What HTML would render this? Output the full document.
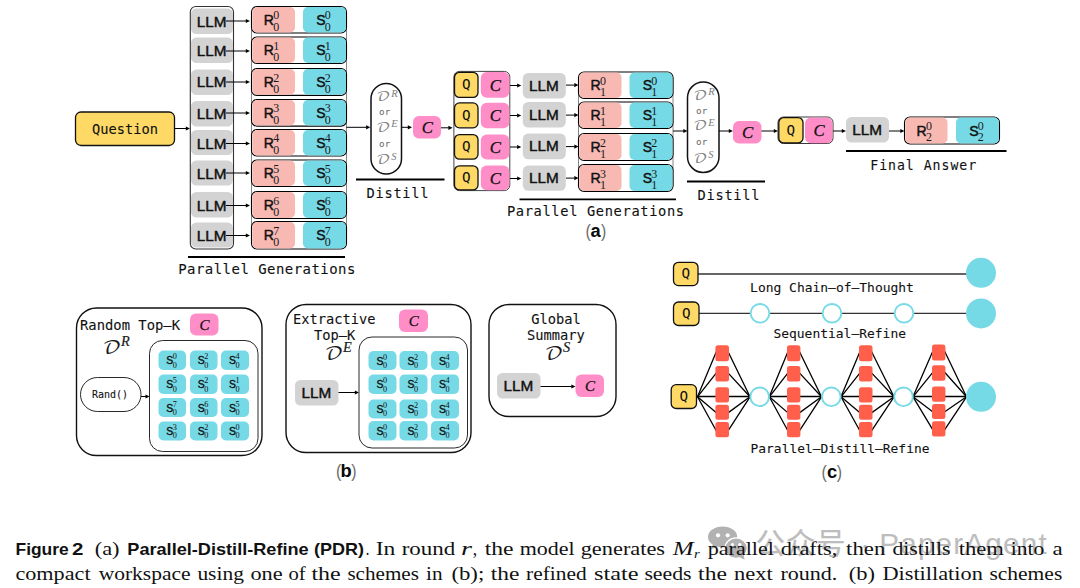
<!DOCTYPE html>
<html lang="en">
<head>
<meta charset="utf-8">
<title>Figure 2 - Parallel-Distill-Refine (PDR)</title>
<style>
html,body{margin:0;padding:0;background:#fff;}
body{width:1080px;height:588px;overflow:hidden;font-family:"Liberation Sans","Noto Sans CJK SC",sans-serif;}
svg{display:block;}
text{white-space:pre;}
</style>
</head>
<body>
<svg width="1080" height="588" viewBox="0 0 1080 588">
<rect width="1080" height="588" fill="#fff"/>
<rect x="75.5" y="112" width="99" height="33.5" rx="5.5" fill="#FFD966" stroke="#111" stroke-width="1.3"/>
<text x="92" y="133.7" font-family="'DejaVu Sans Mono','Liberation Mono',monospace" font-size="13.7" textLength="66" lengthAdjust="spacing" fill="#111" stroke="#111" stroke-width="0.1">Question</text>
<line x1="174.5" y1="128.5" x2="186.3" y2="128.5" stroke="#000" stroke-width="1"/>
<path d="M190 128.5L185.8 126.4L185.8 130.6Z" fill="#000"/>
<rect x="190.3" y="6.5" width="43.2" height="242.5" rx="5.5" fill="#fff" stroke="#333" stroke-width="1.1"/>
<rect x="191" y="8.5" width="42" height="25.5" rx="5.5" fill="#D3D3D3" stroke="none" stroke-width="1"/>
<text x="211.6" y="27.03" font-family="'Liberation Sans','DejaVu Sans',sans-serif" font-size="15.3" text-anchor="middle" fill="#111" stroke="#111" stroke-width="0.45" stroke-linejoin="round">LLM</text>
<rect x="191" y="37.5" width="42" height="25.5" rx="5.5" fill="#D3D3D3" stroke="none" stroke-width="1"/>
<text x="211.6" y="56.03" font-family="'Liberation Sans','DejaVu Sans',sans-serif" font-size="15.3" text-anchor="middle" fill="#111" stroke="#111" stroke-width="0.45" stroke-linejoin="round">LLM</text>
<rect x="191" y="69.5" width="42" height="25.5" rx="5.5" fill="#D3D3D3" stroke="none" stroke-width="1"/>
<text x="211.6" y="86.73" font-family="'Liberation Sans','DejaVu Sans',sans-serif" font-size="15.3" text-anchor="middle" fill="#111" stroke="#111" stroke-width="0.45" stroke-linejoin="round">LLM</text>
<rect x="191" y="101" width="42" height="25.5" rx="5.5" fill="#D3D3D3" stroke="none" stroke-width="1"/>
<text x="211.6" y="118.83" font-family="'Liberation Sans','DejaVu Sans',sans-serif" font-size="15.3" text-anchor="middle" fill="#111" stroke="#111" stroke-width="0.45" stroke-linejoin="round">LLM</text>
<rect x="191" y="130" width="42" height="25" rx="5.5" fill="#D3D3D3" stroke="none" stroke-width="1"/>
<text x="211.6" y="148.58" font-family="'Liberation Sans','DejaVu Sans',sans-serif" font-size="15.3" text-anchor="middle" fill="#111" stroke="#111" stroke-width="0.45" stroke-linejoin="round">LLM</text>
<rect x="191" y="160.5" width="42" height="25" rx="5.5" fill="#D3D3D3" stroke="none" stroke-width="1"/>
<text x="211.6" y="178.78" font-family="'Liberation Sans','DejaVu Sans',sans-serif" font-size="15.3" text-anchor="middle" fill="#111" stroke="#111" stroke-width="0.45" stroke-linejoin="round">LLM</text>
<rect x="191" y="192" width="42" height="25.5" rx="5.5" fill="#D3D3D3" stroke="none" stroke-width="1"/>
<text x="211.6" y="210.53" font-family="'Liberation Sans','DejaVu Sans',sans-serif" font-size="15.3" text-anchor="middle" fill="#111" stroke="#111" stroke-width="0.45" stroke-linejoin="round">LLM</text>
<rect x="191" y="222.5" width="42" height="25" rx="5.5" fill="#D3D3D3" stroke="none" stroke-width="1"/>
<text x="211.6" y="241.38" font-family="'Liberation Sans','DejaVu Sans',sans-serif" font-size="15.3" text-anchor="middle" fill="#111" stroke="#111" stroke-width="0.45" stroke-linejoin="round">LLM</text>
<line x1="251.5" y1="12" x2="251.5" y2="244" stroke="#666" stroke-width="0.8"/>
<line x1="346.5" y1="12" x2="346.5" y2="244" stroke="#666" stroke-width="0.8"/>
<rect x="251.5" y="6.5" width="95" height="26.5" rx="5.5" fill="#fff" stroke="#000" stroke-width="1.1"/>
<rect x="252.3" y="7.1" width="42.7" height="25.3" rx="5" fill="#F9B9B3" stroke="none" stroke-width="1"/>
<rect x="303" y="7.1" width="43" height="25.3" rx="5" fill="#76DAE6" stroke="none" stroke-width="1"/>
<text x="263.65" y="24.9" font-family="'Liberation Sans','DejaVu Sans',sans-serif" font-size="14" fill="#111" stroke="#111" stroke-width="0.45" stroke-linejoin="round">R</text>
<text x="273.2" y="19.3" font-family="'Liberation Serif','DejaVu Serif',serif" font-size="12" fill="#1a1a1a">0</text>
<text x="273.2" y="30.7" font-family="'Liberation Serif','DejaVu Serif',serif" font-size="12" fill="#1a1a1a">0</text>
<text x="316.2" y="24.9" font-family="'Liberation Sans','DejaVu Sans',sans-serif" font-size="14" fill="#111" stroke="#111" stroke-width="0.45" stroke-linejoin="round">S</text>
<text x="324.7" y="19.3" font-family="'Liberation Serif','DejaVu Serif',serif" font-size="12" fill="#1a1a1a">0</text>
<text x="324.7" y="30.7" font-family="'Liberation Serif','DejaVu Serif',serif" font-size="12" fill="#1a1a1a">0</text>
<line x1="226" y1="21" x2="246.3" y2="21" stroke="#000" stroke-width="1"/>
<path d="M250 21L245.8 18.9L245.8 23.1Z" fill="#000"/>
<rect x="251.5" y="37" width="95" height="26.5" rx="5.5" fill="#fff" stroke="#000" stroke-width="1.1"/>
<rect x="252.3" y="37.6" width="42.7" height="25.3" rx="5" fill="#F9B9B3" stroke="none" stroke-width="1"/>
<rect x="303" y="37.6" width="43" height="25.3" rx="5" fill="#76DAE6" stroke="none" stroke-width="1"/>
<text x="263.65" y="55.4" font-family="'Liberation Sans','DejaVu Sans',sans-serif" font-size="14" fill="#111" stroke="#111" stroke-width="0.45" stroke-linejoin="round">R</text>
<text x="273.2" y="49.8" font-family="'Liberation Serif','DejaVu Serif',serif" font-size="12" fill="#1a1a1a">1</text>
<text x="273.2" y="61.2" font-family="'Liberation Serif','DejaVu Serif',serif" font-size="12" fill="#1a1a1a">0</text>
<text x="316.2" y="55.4" font-family="'Liberation Sans','DejaVu Sans',sans-serif" font-size="14" fill="#111" stroke="#111" stroke-width="0.45" stroke-linejoin="round">S</text>
<text x="324.7" y="49.8" font-family="'Liberation Serif','DejaVu Serif',serif" font-size="12" fill="#1a1a1a">1</text>
<text x="324.7" y="61.2" font-family="'Liberation Serif','DejaVu Serif',serif" font-size="12" fill="#1a1a1a">0</text>
<line x1="226" y1="51" x2="246.3" y2="51" stroke="#000" stroke-width="1"/>
<path d="M250 51L245.8 48.9L245.8 53.1Z" fill="#000"/>
<rect x="251.5" y="68.5" width="95" height="26.9" rx="5.5" fill="#fff" stroke="#000" stroke-width="1.1"/>
<rect x="252.3" y="69.1" width="42.7" height="25.7" rx="5" fill="#F9B9B3" stroke="none" stroke-width="1"/>
<rect x="303" y="69.1" width="43" height="25.7" rx="5" fill="#76DAE6" stroke="none" stroke-width="1"/>
<text x="263.65" y="87.1" font-family="'Liberation Sans','DejaVu Sans',sans-serif" font-size="14" fill="#111" stroke="#111" stroke-width="0.45" stroke-linejoin="round">R</text>
<text x="273.2" y="81.5" font-family="'Liberation Serif','DejaVu Serif',serif" font-size="12" fill="#1a1a1a">2</text>
<text x="273.2" y="92.9" font-family="'Liberation Serif','DejaVu Serif',serif" font-size="12" fill="#1a1a1a">0</text>
<text x="316.2" y="87.1" font-family="'Liberation Sans','DejaVu Sans',sans-serif" font-size="14" fill="#111" stroke="#111" stroke-width="0.45" stroke-linejoin="round">S</text>
<text x="324.7" y="81.5" font-family="'Liberation Serif','DejaVu Serif',serif" font-size="12" fill="#1a1a1a">2</text>
<text x="324.7" y="92.9" font-family="'Liberation Serif','DejaVu Serif',serif" font-size="12" fill="#1a1a1a">0</text>
<line x1="226" y1="82" x2="246.3" y2="82" stroke="#000" stroke-width="1"/>
<path d="M250 82L245.8 79.9L245.8 84.1Z" fill="#000"/>
<rect x="251.5" y="99.5" width="95" height="26.6" rx="5.5" fill="#fff" stroke="#000" stroke-width="1.1"/>
<rect x="252.3" y="100.1" width="42.7" height="25.4" rx="5" fill="#F9B9B3" stroke="none" stroke-width="1"/>
<rect x="303" y="100.1" width="43" height="25.4" rx="5" fill="#76DAE6" stroke="none" stroke-width="1"/>
<text x="263.65" y="117.95" font-family="'Liberation Sans','DejaVu Sans',sans-serif" font-size="14" fill="#111" stroke="#111" stroke-width="0.45" stroke-linejoin="round">R</text>
<text x="273.2" y="112.35" font-family="'Liberation Serif','DejaVu Serif',serif" font-size="12" fill="#1a1a1a">3</text>
<text x="273.2" y="123.75" font-family="'Liberation Serif','DejaVu Serif',serif" font-size="12" fill="#1a1a1a">0</text>
<text x="316.2" y="117.95" font-family="'Liberation Sans','DejaVu Sans',sans-serif" font-size="14" fill="#111" stroke="#111" stroke-width="0.45" stroke-linejoin="round">S</text>
<text x="324.7" y="112.35" font-family="'Liberation Serif','DejaVu Serif',serif" font-size="12" fill="#1a1a1a">3</text>
<text x="324.7" y="123.75" font-family="'Liberation Serif','DejaVu Serif',serif" font-size="12" fill="#1a1a1a">0</text>
<line x1="226" y1="113" x2="246.3" y2="113" stroke="#000" stroke-width="1"/>
<path d="M250 113L245.8 110.9L245.8 115.1Z" fill="#000"/>
<rect x="251.5" y="129.5" width="95" height="26.5" rx="5.5" fill="#fff" stroke="#000" stroke-width="1.1"/>
<rect x="252.3" y="130.1" width="42.7" height="25.3" rx="5" fill="#F9B9B3" stroke="none" stroke-width="1"/>
<rect x="303" y="130.1" width="43" height="25.3" rx="5" fill="#76DAE6" stroke="none" stroke-width="1"/>
<text x="263.65" y="147.9" font-family="'Liberation Sans','DejaVu Sans',sans-serif" font-size="14" fill="#111" stroke="#111" stroke-width="0.45" stroke-linejoin="round">R</text>
<text x="273.2" y="142.3" font-family="'Liberation Serif','DejaVu Serif',serif" font-size="12" fill="#1a1a1a">4</text>
<text x="273.2" y="153.7" font-family="'Liberation Serif','DejaVu Serif',serif" font-size="12" fill="#1a1a1a">0</text>
<text x="316.2" y="147.9" font-family="'Liberation Sans','DejaVu Sans',sans-serif" font-size="14" fill="#111" stroke="#111" stroke-width="0.45" stroke-linejoin="round">S</text>
<text x="324.7" y="142.3" font-family="'Liberation Serif','DejaVu Serif',serif" font-size="12" fill="#1a1a1a">4</text>
<text x="324.7" y="153.7" font-family="'Liberation Serif','DejaVu Serif',serif" font-size="12" fill="#1a1a1a">0</text>
<line x1="226" y1="143.5" x2="246.3" y2="143.5" stroke="#000" stroke-width="1"/>
<path d="M250 143.5L245.8 141.4L245.8 145.6Z" fill="#000"/>
<rect x="251.5" y="160" width="95" height="26.5" rx="5.5" fill="#fff" stroke="#000" stroke-width="1.1"/>
<rect x="252.3" y="160.6" width="42.7" height="25.3" rx="5" fill="#F9B9B3" stroke="none" stroke-width="1"/>
<rect x="303" y="160.6" width="43" height="25.3" rx="5" fill="#76DAE6" stroke="none" stroke-width="1"/>
<text x="263.65" y="178.4" font-family="'Liberation Sans','DejaVu Sans',sans-serif" font-size="14" fill="#111" stroke="#111" stroke-width="0.45" stroke-linejoin="round">R</text>
<text x="273.2" y="172.8" font-family="'Liberation Serif','DejaVu Serif',serif" font-size="12" fill="#1a1a1a">5</text>
<text x="273.2" y="184.2" font-family="'Liberation Serif','DejaVu Serif',serif" font-size="12" fill="#1a1a1a">0</text>
<text x="316.2" y="178.4" font-family="'Liberation Sans','DejaVu Sans',sans-serif" font-size="14" fill="#111" stroke="#111" stroke-width="0.45" stroke-linejoin="round">S</text>
<text x="324.7" y="172.8" font-family="'Liberation Serif','DejaVu Serif',serif" font-size="12" fill="#1a1a1a">5</text>
<text x="324.7" y="184.2" font-family="'Liberation Serif','DejaVu Serif',serif" font-size="12" fill="#1a1a1a">0</text>
<line x1="226" y1="173" x2="246.3" y2="173" stroke="#000" stroke-width="1"/>
<path d="M250 173L245.8 170.9L245.8 175.1Z" fill="#000"/>
<rect x="251.5" y="191.5" width="95" height="27" rx="5.5" fill="#fff" stroke="#000" stroke-width="1.1"/>
<rect x="252.3" y="192.1" width="42.7" height="25.8" rx="5" fill="#F9B9B3" stroke="none" stroke-width="1"/>
<rect x="303" y="192.1" width="43" height="25.8" rx="5" fill="#76DAE6" stroke="none" stroke-width="1"/>
<text x="263.65" y="210.15" font-family="'Liberation Sans','DejaVu Sans',sans-serif" font-size="14" fill="#111" stroke="#111" stroke-width="0.45" stroke-linejoin="round">R</text>
<text x="273.2" y="204.55" font-family="'Liberation Serif','DejaVu Serif',serif" font-size="12" fill="#1a1a1a">6</text>
<text x="273.2" y="215.95" font-family="'Liberation Serif','DejaVu Serif',serif" font-size="12" fill="#1a1a1a">0</text>
<text x="316.2" y="210.15" font-family="'Liberation Sans','DejaVu Sans',sans-serif" font-size="14" fill="#111" stroke="#111" stroke-width="0.45" stroke-linejoin="round">S</text>
<text x="324.7" y="204.55" font-family="'Liberation Serif','DejaVu Serif',serif" font-size="12" fill="#1a1a1a">6</text>
<text x="324.7" y="215.95" font-family="'Liberation Serif','DejaVu Serif',serif" font-size="12" fill="#1a1a1a">0</text>
<line x1="226" y1="205.5" x2="246.3" y2="205.5" stroke="#000" stroke-width="1"/>
<path d="M250 205.5L245.8 203.4L245.8 207.6Z" fill="#000"/>
<rect x="251.5" y="221.5" width="95" height="27.5" rx="5.5" fill="#fff" stroke="#000" stroke-width="1.1"/>
<rect x="252.3" y="222.1" width="42.7" height="26.3" rx="5" fill="#F9B9B3" stroke="none" stroke-width="1"/>
<rect x="303" y="222.1" width="43" height="26.3" rx="5" fill="#76DAE6" stroke="none" stroke-width="1"/>
<text x="263.65" y="240.4" font-family="'Liberation Sans','DejaVu Sans',sans-serif" font-size="14" fill="#111" stroke="#111" stroke-width="0.45" stroke-linejoin="round">R</text>
<text x="273.2" y="234.8" font-family="'Liberation Serif','DejaVu Serif',serif" font-size="12" fill="#1a1a1a">7</text>
<text x="273.2" y="246.2" font-family="'Liberation Serif','DejaVu Serif',serif" font-size="12" fill="#1a1a1a">0</text>
<text x="316.2" y="240.4" font-family="'Liberation Sans','DejaVu Sans',sans-serif" font-size="14" fill="#111" stroke="#111" stroke-width="0.45" stroke-linejoin="round">S</text>
<text x="324.7" y="234.8" font-family="'Liberation Serif','DejaVu Serif',serif" font-size="12" fill="#1a1a1a">7</text>
<text x="324.7" y="246.2" font-family="'Liberation Serif','DejaVu Serif',serif" font-size="12" fill="#1a1a1a">0</text>
<line x1="226" y1="235.5" x2="246.3" y2="235.5" stroke="#000" stroke-width="1"/>
<path d="M250 235.5L245.8 233.4L245.8 237.6Z" fill="#000"/>
<line x1="188" y1="257" x2="345" y2="257" stroke="#000" stroke-width="1.8"/>
<text x="178.2" y="274.4" font-family="'DejaVu Sans Mono','Liberation Mono',monospace" font-size="13.98" textLength="177.2" lengthAdjust="spacing" fill="#111" stroke="#111" stroke-width="0.1">Parallel Generations</text>
<line x1="346.5" y1="127.3" x2="366.6" y2="127.3" stroke="#000" stroke-width="1"/>
<path d="M370.3 127.3L366.1 125.2L366.1 129.4Z" fill="#000"/>
<rect x="371" y="83.5" width="30.5" height="90.5" rx="15.25" fill="#fff" stroke="#111" stroke-width="1.5"/>
<text transform="translate(383.35 101.27) scale(1.16 1)" font-family="'DejaVu Math TeX Gyre','DejaVu Serif','Liberation Serif',serif" font-size="13.2" text-anchor="middle" fill="#7d7d7d">𝒟</text>
<text x="391.25" y="96.5" font-family="'Liberation Serif','DejaVu Serif',serif" font-size="10.6" font-style="italic" fill="#7d7d7d">R</text>
<text x="384.65" y="115.2" font-family="'DejaVu Sans Mono','Liberation Mono',monospace" font-size="9.3" text-anchor="middle" fill="#6a6a6a">or</text>
<text transform="translate(383.35 131.97) scale(1.16 1)" font-family="'DejaVu Math TeX Gyre','DejaVu Serif','Liberation Serif',serif" font-size="13.2" text-anchor="middle" fill="#7d7d7d">𝒟</text>
<text x="391.25" y="127.2" font-family="'Liberation Serif','DejaVu Serif',serif" font-size="10.6" font-style="italic" fill="#7d7d7d">E</text>
<text x="384.65" y="146.8" font-family="'DejaVu Sans Mono','Liberation Mono',monospace" font-size="9.3" text-anchor="middle" fill="#6a6a6a">or</text>
<text transform="translate(383.35 164.27) scale(1.16 1)" font-family="'DejaVu Math TeX Gyre','DejaVu Serif','Liberation Serif',serif" font-size="13.2" text-anchor="middle" fill="#7d7d7d">𝒟</text>
<text x="391.25" y="159.5" font-family="'Liberation Serif','DejaVu Serif',serif" font-size="10.6" font-style="italic" fill="#7d7d7d">S</text>
<line x1="401.5" y1="127.3" x2="408.3" y2="127.3" stroke="#000" stroke-width="1"/>
<path d="M412 127.3L407.8 125.2L407.8 129.4Z" fill="#000"/>
<rect x="413" y="116" width="28" height="22.5" rx="6" fill="#FF8DC7" stroke="none" stroke-width="1"/>
<text x="427.3" y="133.05" font-family="'Liberation Serif','DejaVu Serif',serif" font-size="16.8" font-style="italic" text-anchor="middle" fill="#111" stroke="#111" stroke-width="0.25">C</text>
<line x1="441" y1="127.8" x2="448.9" y2="127.8" stroke="#000" stroke-width="1"/>
<path d="M452.6 127.8L448.4 125.7L448.4 129.9Z" fill="#000"/>
<line x1="356" y1="179.5" x2="444.5" y2="179.5" stroke="#000" stroke-width="1.8"/>
<text x="366.49" y="198" font-family="'DejaVu Sans Mono','Liberation Mono',monospace" font-size="13.69" textLength="62.02" lengthAdjust="spacing" fill="#111" stroke="#111" stroke-width="0.1">Distill</text>
<rect x="453.9" y="71.4" width="55.9" height="119.2" rx="5.5" fill="#fff" stroke="#444" stroke-width="1"/>
<line x1="578.5" y1="77" x2="578.5" y2="186" stroke="#666" stroke-width="0.8"/>
<line x1="673" y1="77" x2="673" y2="186" stroke="#666" stroke-width="0.8"/>
<rect x="480.8" y="72.1" width="28.6" height="25.7" rx="6" fill="#FF8DC7" stroke="none" stroke-width="1"/>
<text x="495.4" y="90.65" font-family="'Liberation Serif','DejaVu Serif',serif" font-size="16.8" font-style="italic" text-anchor="middle" fill="#111" stroke="#111" stroke-width="0.25">C</text>
<rect x="454.5" y="72.3" width="23.5" height="25.1" rx="5" fill="#FFD966" stroke="#111" stroke-width="1.3"/>
<text x="466.25" y="89.2" font-family="'DejaVu Sans Mono','Liberation Mono',monospace" font-size="14.3" text-anchor="middle" fill="#111">Q</text>
<line x1="510" y1="85.5" x2="517.6" y2="85.5" stroke="#000" stroke-width="1"/>
<path d="M521.3 85.5L517.1 83.4L517.1 87.6Z" fill="#000"/>
<rect x="522.8" y="73" width="43" height="25.6" rx="5.5" fill="#D3D3D3" stroke="none" stroke-width="1"/>
<text x="543.9" y="90.78" font-family="'Liberation Sans','DejaVu Sans',sans-serif" font-size="15.3" text-anchor="middle" fill="#111" stroke="#111" stroke-width="0.45" stroke-linejoin="round">LLM</text>
<line x1="566" y1="85.1" x2="574.8" y2="85.1" stroke="#000" stroke-width="1"/>
<path d="M578.5 85.1L574.3 83L574.3 87.2Z" fill="#000"/>
<rect x="578.5" y="72" width="94.5" height="26.5" rx="5.5" fill="#fff" stroke="#000" stroke-width="1.1"/>
<rect x="579.3" y="72.6" width="42.2" height="25.3" rx="5" fill="#F9B9B3" stroke="none" stroke-width="1"/>
<rect x="629.5" y="72.6" width="43" height="25.3" rx="5" fill="#76DAE6" stroke="none" stroke-width="1"/>
<text x="590.4" y="90.4" font-family="'Liberation Sans','DejaVu Sans',sans-serif" font-size="14" fill="#111" stroke="#111" stroke-width="0.45" stroke-linejoin="round">R</text>
<text x="599.95" y="84.8" font-family="'Liberation Serif','DejaVu Serif',serif" font-size="12" fill="#1a1a1a">0</text>
<text x="599.95" y="96.2" font-family="'Liberation Serif','DejaVu Serif',serif" font-size="12" fill="#1a1a1a">1</text>
<text x="642.7" y="90.4" font-family="'Liberation Sans','DejaVu Sans',sans-serif" font-size="14" fill="#111" stroke="#111" stroke-width="0.45" stroke-linejoin="round">S</text>
<text x="651.2" y="84.8" font-family="'Liberation Serif','DejaVu Serif',serif" font-size="12" fill="#1a1a1a">0</text>
<text x="651.2" y="96.2" font-family="'Liberation Serif','DejaVu Serif',serif" font-size="12" fill="#1a1a1a">1</text>
<rect x="480.8" y="102.7" width="28.6" height="25.5" rx="6" fill="#FF8DC7" stroke="none" stroke-width="1"/>
<text x="495.4" y="121.15" font-family="'Liberation Serif','DejaVu Serif',serif" font-size="16.8" font-style="italic" text-anchor="middle" fill="#111" stroke="#111" stroke-width="0.25">C</text>
<rect x="454.5" y="102.9" width="23.5" height="24.9" rx="5" fill="#FFD966" stroke="#111" stroke-width="1.3"/>
<text x="466.25" y="119.7" font-family="'DejaVu Sans Mono','Liberation Mono',monospace" font-size="14.3" text-anchor="middle" fill="#111">Q</text>
<line x1="510" y1="115.5" x2="517.6" y2="115.5" stroke="#000" stroke-width="1"/>
<path d="M521.3 115.5L517.1 113.4L517.1 117.6Z" fill="#000"/>
<rect x="522.8" y="102" width="43" height="25.6" rx="5.5" fill="#D3D3D3" stroke="none" stroke-width="1"/>
<text x="543.9" y="119.78" font-family="'Liberation Sans','DejaVu Sans',sans-serif" font-size="15.3" text-anchor="middle" fill="#111" stroke="#111" stroke-width="0.45" stroke-linejoin="round">LLM</text>
<line x1="566" y1="115.1" x2="574.8" y2="115.1" stroke="#000" stroke-width="1"/>
<path d="M578.5 115.1L574.3 113L574.3 117.2Z" fill="#000"/>
<rect x="578.5" y="102" width="94.5" height="26.5" rx="5.5" fill="#fff" stroke="#000" stroke-width="1.1"/>
<rect x="579.3" y="102.6" width="42.2" height="25.3" rx="5" fill="#F9B9B3" stroke="none" stroke-width="1"/>
<rect x="629.5" y="102.6" width="43" height="25.3" rx="5" fill="#76DAE6" stroke="none" stroke-width="1"/>
<text x="590.4" y="120.4" font-family="'Liberation Sans','DejaVu Sans',sans-serif" font-size="14" fill="#111" stroke="#111" stroke-width="0.45" stroke-linejoin="round">R</text>
<text x="599.95" y="114.8" font-family="'Liberation Serif','DejaVu Serif',serif" font-size="12" fill="#1a1a1a">1</text>
<text x="599.95" y="126.2" font-family="'Liberation Serif','DejaVu Serif',serif" font-size="12" fill="#1a1a1a">1</text>
<text x="642.7" y="120.4" font-family="'Liberation Sans','DejaVu Sans',sans-serif" font-size="14" fill="#111" stroke="#111" stroke-width="0.45" stroke-linejoin="round">S</text>
<text x="651.2" y="114.8" font-family="'Liberation Serif','DejaVu Serif',serif" font-size="12" fill="#1a1a1a">1</text>
<text x="651.2" y="126.2" font-family="'Liberation Serif','DejaVu Serif',serif" font-size="12" fill="#1a1a1a">1</text>
<rect x="480.8" y="134.4" width="28.6" height="25.2" rx="6" fill="#FF8DC7" stroke="none" stroke-width="1"/>
<text x="495.4" y="152.7" font-family="'Liberation Serif','DejaVu Serif',serif" font-size="16.8" font-style="italic" text-anchor="middle" fill="#111" stroke="#111" stroke-width="0.25">C</text>
<rect x="454.5" y="134.6" width="23.5" height="24.6" rx="5" fill="#FFD966" stroke="#111" stroke-width="1.3"/>
<text x="466.25" y="151.25" font-family="'DejaVu Sans Mono','Liberation Mono',monospace" font-size="14.3" text-anchor="middle" fill="#111">Q</text>
<line x1="510" y1="147" x2="517.6" y2="147" stroke="#000" stroke-width="1"/>
<path d="M521.3 147L517.1 144.9L517.1 149.1Z" fill="#000"/>
<rect x="522.8" y="133.6" width="43" height="25.7" rx="5.5" fill="#D3D3D3" stroke="none" stroke-width="1"/>
<text x="543.9" y="151.43" font-family="'Liberation Sans','DejaVu Sans',sans-serif" font-size="15.3" text-anchor="middle" fill="#111" stroke="#111" stroke-width="0.45" stroke-linejoin="round">LLM</text>
<line x1="566" y1="146.6" x2="574.8" y2="146.6" stroke="#000" stroke-width="1"/>
<path d="M578.5 146.6L574.3 144.5L574.3 148.7Z" fill="#000"/>
<rect x="578.5" y="133.5" width="94.5" height="27" rx="5.5" fill="#fff" stroke="#000" stroke-width="1.1"/>
<rect x="579.3" y="134.1" width="42.2" height="25.8" rx="5" fill="#F9B9B3" stroke="none" stroke-width="1"/>
<rect x="629.5" y="134.1" width="43" height="25.8" rx="5" fill="#76DAE6" stroke="none" stroke-width="1"/>
<text x="590.4" y="152.15" font-family="'Liberation Sans','DejaVu Sans',sans-serif" font-size="14" fill="#111" stroke="#111" stroke-width="0.45" stroke-linejoin="round">R</text>
<text x="599.95" y="146.55" font-family="'Liberation Serif','DejaVu Serif',serif" font-size="12" fill="#1a1a1a">2</text>
<text x="599.95" y="157.95" font-family="'Liberation Serif','DejaVu Serif',serif" font-size="12" fill="#1a1a1a">1</text>
<text x="642.7" y="152.15" font-family="'Liberation Sans','DejaVu Sans',sans-serif" font-size="14" fill="#111" stroke="#111" stroke-width="0.45" stroke-linejoin="round">S</text>
<text x="651.2" y="146.55" font-family="'Liberation Serif','DejaVu Serif',serif" font-size="12" fill="#1a1a1a">2</text>
<text x="651.2" y="157.95" font-family="'Liberation Serif','DejaVu Serif',serif" font-size="12" fill="#1a1a1a">1</text>
<rect x="480.8" y="165.6" width="28.6" height="24.7" rx="6" fill="#FF8DC7" stroke="none" stroke-width="1"/>
<text x="495.4" y="183.65" font-family="'Liberation Serif','DejaVu Serif',serif" font-size="16.8" font-style="italic" text-anchor="middle" fill="#111" stroke="#111" stroke-width="0.25">C</text>
<rect x="454.5" y="165.8" width="23.5" height="24.1" rx="5" fill="#FFD966" stroke="#111" stroke-width="1.3"/>
<text x="466.25" y="182.2" font-family="'DejaVu Sans Mono','Liberation Mono',monospace" font-size="14.3" text-anchor="middle" fill="#111">Q</text>
<line x1="510" y1="178.5" x2="517.6" y2="178.5" stroke="#000" stroke-width="1"/>
<path d="M521.3 178.5L517.1 176.4L517.1 180.6Z" fill="#000"/>
<rect x="522.8" y="165.6" width="43" height="25.2" rx="5.5" fill="#D3D3D3" stroke="none" stroke-width="1"/>
<text x="543.9" y="183.18" font-family="'Liberation Sans','DejaVu Sans',sans-serif" font-size="15.3" text-anchor="middle" fill="#111" stroke="#111" stroke-width="0.45" stroke-linejoin="round">LLM</text>
<line x1="566" y1="178.1" x2="574.8" y2="178.1" stroke="#000" stroke-width="1"/>
<path d="M578.5 178.1L574.3 176L574.3 180.2Z" fill="#000"/>
<rect x="578.5" y="164.5" width="94.5" height="27" rx="5.5" fill="#fff" stroke="#000" stroke-width="1.1"/>
<rect x="579.3" y="165.1" width="42.2" height="25.8" rx="5" fill="#F9B9B3" stroke="none" stroke-width="1"/>
<rect x="629.5" y="165.1" width="43" height="25.8" rx="5" fill="#76DAE6" stroke="none" stroke-width="1"/>
<text x="590.4" y="183.15" font-family="'Liberation Sans','DejaVu Sans',sans-serif" font-size="14" fill="#111" stroke="#111" stroke-width="0.45" stroke-linejoin="round">R</text>
<text x="599.95" y="177.55" font-family="'Liberation Serif','DejaVu Serif',serif" font-size="12" fill="#1a1a1a">3</text>
<text x="599.95" y="188.95" font-family="'Liberation Serif','DejaVu Serif',serif" font-size="12" fill="#1a1a1a">1</text>
<text x="642.7" y="183.15" font-family="'Liberation Sans','DejaVu Sans',sans-serif" font-size="14" fill="#111" stroke="#111" stroke-width="0.45" stroke-linejoin="round">S</text>
<text x="651.2" y="177.55" font-family="'Liberation Serif','DejaVu Serif',serif" font-size="12" fill="#1a1a1a">3</text>
<text x="651.2" y="188.95" font-family="'Liberation Serif','DejaVu Serif',serif" font-size="12" fill="#1a1a1a">1</text>
<line x1="519.5" y1="199.3" x2="676" y2="199.3" stroke="#000" stroke-width="1.8"/>
<text x="506.9" y="216" font-family="'DejaVu Sans Mono','Liberation Mono',monospace" font-size="13.69" textLength="177.2" lengthAdjust="spacing" fill="#111" stroke="#111" stroke-width="0.1">Parallel Generations</text>
<text transform="translate(585.4 236.7) scale(0.84 1)" font-family="'Liberation Sans','DejaVu Sans',sans-serif" font-size="19" fill="#6e6e6e">(</text>
<text x="590.5" y="236.6" font-family="'Liberation Sans','DejaVu Sans',sans-serif" font-size="18.3" font-weight="bold" fill="#0a0a0a">a</text>
<text transform="translate(601.1 236.7) scale(0.84 1)" font-family="'Liberation Sans','DejaVu Sans',sans-serif" font-size="19" fill="#6e6e6e">)</text>
<line x1="673" y1="131" x2="683.8" y2="131" stroke="#000" stroke-width="1"/>
<path d="M687.5 131L683.3 128.9L683.3 133.1Z" fill="#000"/>
<rect x="687.5" y="82" width="31.5" height="90.5" rx="15.75" fill="#fff" stroke="#111" stroke-width="1.5"/>
<text transform="translate(700.35 99.77) scale(1.16 1)" font-family="'DejaVu Math TeX Gyre','DejaVu Serif','Liberation Serif',serif" font-size="13.2" text-anchor="middle" fill="#7d7d7d">𝒟</text>
<text x="708.25" y="95" font-family="'Liberation Serif','DejaVu Serif',serif" font-size="10.6" font-style="italic" fill="#7d7d7d">R</text>
<text x="701.65" y="113.7" font-family="'DejaVu Sans Mono','Liberation Mono',monospace" font-size="9.3" text-anchor="middle" fill="#6a6a6a">or</text>
<text transform="translate(700.35 130.47) scale(1.16 1)" font-family="'DejaVu Math TeX Gyre','DejaVu Serif','Liberation Serif',serif" font-size="13.2" text-anchor="middle" fill="#7d7d7d">𝒟</text>
<text x="708.25" y="125.7" font-family="'Liberation Serif','DejaVu Serif',serif" font-size="10.6" font-style="italic" fill="#7d7d7d">E</text>
<text x="701.65" y="145.3" font-family="'DejaVu Sans Mono','Liberation Mono',monospace" font-size="9.3" text-anchor="middle" fill="#6a6a6a">or</text>
<text transform="translate(700.35 162.77) scale(1.16 1)" font-family="'DejaVu Math TeX Gyre','DejaVu Serif','Liberation Serif',serif" font-size="13.2" text-anchor="middle" fill="#7d7d7d">𝒟</text>
<text x="708.25" y="158" font-family="'Liberation Serif','DejaVu Serif',serif" font-size="10.6" font-style="italic" fill="#7d7d7d">S</text>
<line x1="719" y1="131" x2="729.3" y2="131" stroke="#000" stroke-width="1"/>
<path d="M733 131L728.8 128.9L728.8 133.1Z" fill="#000"/>
<rect x="733" y="121" width="28.5" height="22.5" rx="6" fill="#FF8DC7" stroke="none" stroke-width="1"/>
<text x="747.55" y="138.05" font-family="'Liberation Serif','DejaVu Serif',serif" font-size="16.8" font-style="italic" text-anchor="middle" fill="#111" stroke="#111" stroke-width="0.25">C</text>
<line x1="761.5" y1="131" x2="774.3" y2="131" stroke="#000" stroke-width="1"/>
<path d="M778 131L773.8 128.9L773.8 133.1Z" fill="#000"/>
<line x1="687" y1="181.5" x2="765" y2="181.5" stroke="#000" stroke-width="1.8"/>
<text x="697.49" y="200.4" font-family="'DejaVu Sans Mono','Liberation Mono',monospace" font-size="13.69" textLength="62.02" lengthAdjust="spacing" fill="#111" stroke="#111" stroke-width="0.1">Distill</text>
<rect x="778" y="117" width="55" height="26.5" rx="5.5" fill="#fff" stroke="#222" stroke-width="0.9"/>
<rect x="805" y="117.4" width="27.5" height="25.9" rx="6" fill="#FF8DC7" stroke="none" stroke-width="1"/>
<text x="819.05" y="136.05" font-family="'Liberation Serif','DejaVu Serif',serif" font-size="16.8" font-style="italic" text-anchor="middle" fill="#111" stroke="#111" stroke-width="0.25">C</text>
<rect x="778.8" y="117.6" width="24.2" height="25.3" rx="5" fill="#FFD966" stroke="#111" stroke-width="1.3"/>
<text x="790.9" y="134.6" font-family="'DejaVu Sans Mono','Liberation Mono',monospace" font-size="14.3" text-anchor="middle" fill="#111">Q</text>
<line x1="833" y1="131" x2="842.3" y2="131" stroke="#000" stroke-width="1"/>
<path d="M846 131L841.8 128.9L841.8 133.1Z" fill="#000"/>
<rect x="846" y="117" width="43" height="25.5" rx="5.5" fill="#D3D3D3" stroke="none" stroke-width="1"/>
<text x="867.1" y="134.53" font-family="'Liberation Sans','DejaVu Sans',sans-serif" font-size="15.3" text-anchor="middle" fill="#111" stroke="#111" stroke-width="0.45" stroke-linejoin="round">LLM</text>
<line x1="889" y1="131" x2="900.8" y2="131" stroke="#000" stroke-width="1"/>
<path d="M904.5 131L900.3 128.9L900.3 133.1Z" fill="#000"/>
<rect x="904.5" y="117" width="95" height="27" rx="5.5" fill="#fff" stroke="#000" stroke-width="1.1"/>
<rect x="905.3" y="117.6" width="42.2" height="25.8" rx="5" fill="#F9B9B3" stroke="none" stroke-width="1"/>
<rect x="956" y="117.6" width="43" height="25.8" rx="5" fill="#76DAE6" stroke="none" stroke-width="1"/>
<text x="916.4" y="135.65" font-family="'Liberation Sans','DejaVu Sans',sans-serif" font-size="14" fill="#111" stroke="#111" stroke-width="0.45" stroke-linejoin="round">R</text>
<text x="925.95" y="130.05" font-family="'Liberation Serif','DejaVu Serif',serif" font-size="12" fill="#1a1a1a">0</text>
<text x="925.95" y="141.45" font-family="'Liberation Serif','DejaVu Serif',serif" font-size="12" fill="#1a1a1a">2</text>
<text x="969.2" y="135.65" font-family="'Liberation Sans','DejaVu Sans',sans-serif" font-size="14" fill="#111" stroke="#111" stroke-width="0.45" stroke-linejoin="round">S</text>
<text x="977.7" y="130.05" font-family="'Liberation Serif','DejaVu Serif',serif" font-size="12" fill="#1a1a1a">0</text>
<text x="977.7" y="141.45" font-family="'Liberation Serif','DejaVu Serif',serif" font-size="12" fill="#1a1a1a">2</text>
<line x1="846" y1="151" x2="1006.5" y2="151" stroke="#000" stroke-width="1.8"/>
<text x="870.22" y="169.72" font-family="'DejaVu Sans Mono','Liberation Mono',monospace" font-size="13.2" textLength="105.96" lengthAdjust="spacing" fill="#111" stroke="#111" stroke-width="0.1">Final Answer</text>
<rect x="76.5" y="308" width="185.5" height="147.5" rx="20" fill="#fff" stroke="#111" stroke-width="1.4"/>
<text x="80.02" y="329.75" font-family="'DejaVu Sans Mono','Liberation Mono',monospace" font-size="13.84" textLength="99.96" lengthAdjust="spacing" fill="#111" stroke="#111" stroke-width="0.1">Random Top–K</text>
<rect x="190" y="313.5" width="28.5" height="22" rx="6" fill="#FF8DC7" stroke="none" stroke-width="1"/>
<text x="204.55" y="329.68" font-family="'Liberation Serif','DejaVu Serif',serif" font-size="15" font-style="italic" text-anchor="middle" fill="#111" stroke="#111" stroke-width="0.25">C</text>
<text transform="translate(102.5 353.9) scale(1.1 1)" font-family="'DejaVu Math TeX Gyre','DejaVu Serif','Liberation Serif',serif" font-size="18.5" fill="#1a1a1a">𝒟</text>
<text x="120.9" y="345.9" font-family="'Liberation Serif','DejaVu Serif',serif" font-size="14.3" font-style="italic" fill="#1a1a1a" stroke="#1a1a1a" stroke-width="0.2">R</text>
<rect x="149.5" y="340.5" width="108.5" height="111" rx="13" fill="#fff" stroke="#111" stroke-width="0.9"/>
<rect x="158.5" y="350.5" width="27.5" height="19.5" rx="5" fill="#76DAE6" stroke="none" stroke-width="1"/>
<text x="166.35" y="364.45" font-family="'Liberation Sans','DejaVu Sans',sans-serif" font-size="10.4" fill="#111" stroke="#111" stroke-width="0.4" stroke-linejoin="round">S</text>
<text x="172.65" y="359.35" font-family="'Liberation Serif','DejaVu Serif',serif" font-size="8.2" fill="#111">0</text>
<text x="172.65" y="367.65" font-family="'Liberation Serif','DejaVu Serif',serif" font-size="8.2" fill="#111">0</text>
<rect x="190" y="350.5" width="27.5" height="19.5" rx="5" fill="#76DAE6" stroke="none" stroke-width="1"/>
<text x="197.85" y="364.45" font-family="'Liberation Sans','DejaVu Sans',sans-serif" font-size="10.4" fill="#111" stroke="#111" stroke-width="0.4" stroke-linejoin="round">S</text>
<text x="204.15" y="359.35" font-family="'Liberation Serif','DejaVu Serif',serif" font-size="8.2" fill="#111">2</text>
<text x="204.15" y="367.65" font-family="'Liberation Serif','DejaVu Serif',serif" font-size="8.2" fill="#111">0</text>
<rect x="221" y="350.5" width="28" height="19.5" rx="5" fill="#76DAE6" stroke="none" stroke-width="1"/>
<text x="229.1" y="364.45" font-family="'Liberation Sans','DejaVu Sans',sans-serif" font-size="10.4" fill="#111" stroke="#111" stroke-width="0.4" stroke-linejoin="round">S</text>
<text x="235.4" y="359.35" font-family="'Liberation Serif','DejaVu Serif',serif" font-size="8.2" fill="#111">4</text>
<text x="235.4" y="367.65" font-family="'Liberation Serif','DejaVu Serif',serif" font-size="8.2" fill="#111">0</text>
<rect x="158.5" y="374.5" width="27.5" height="19.5" rx="5" fill="#76DAE6" stroke="none" stroke-width="1"/>
<text x="166.35" y="388.45" font-family="'Liberation Sans','DejaVu Sans',sans-serif" font-size="10.4" fill="#111" stroke="#111" stroke-width="0.4" stroke-linejoin="round">S</text>
<text x="172.65" y="383.35" font-family="'Liberation Serif','DejaVu Serif',serif" font-size="8.2" fill="#111">5</text>
<text x="172.65" y="391.65" font-family="'Liberation Serif','DejaVu Serif',serif" font-size="8.2" fill="#111">0</text>
<rect x="190" y="374.5" width="27.5" height="19.5" rx="5" fill="#76DAE6" stroke="none" stroke-width="1"/>
<text x="197.85" y="388.45" font-family="'Liberation Sans','DejaVu Sans',sans-serif" font-size="10.4" fill="#111" stroke="#111" stroke-width="0.4" stroke-linejoin="round">S</text>
<text x="204.15" y="383.35" font-family="'Liberation Serif','DejaVu Serif',serif" font-size="8.2" fill="#111">2</text>
<text x="204.15" y="391.65" font-family="'Liberation Serif','DejaVu Serif',serif" font-size="8.2" fill="#111">0</text>
<rect x="221" y="374.5" width="28" height="19.5" rx="5" fill="#76DAE6" stroke="none" stroke-width="1"/>
<text x="229.1" y="388.45" font-family="'Liberation Sans','DejaVu Sans',sans-serif" font-size="10.4" fill="#111" stroke="#111" stroke-width="0.4" stroke-linejoin="round">S</text>
<text x="235.4" y="383.35" font-family="'Liberation Serif','DejaVu Serif',serif" font-size="8.2" fill="#111">1</text>
<text x="235.4" y="391.65" font-family="'Liberation Serif','DejaVu Serif',serif" font-size="8.2" fill="#111">0</text>
<rect x="158.5" y="398" width="27.5" height="19" rx="5" fill="#76DAE6" stroke="none" stroke-width="1"/>
<text x="166.35" y="411.7" font-family="'Liberation Sans','DejaVu Sans',sans-serif" font-size="10.4" fill="#111" stroke="#111" stroke-width="0.4" stroke-linejoin="round">S</text>
<text x="172.65" y="406.6" font-family="'Liberation Serif','DejaVu Serif',serif" font-size="8.2" fill="#111">7</text>
<text x="172.65" y="414.9" font-family="'Liberation Serif','DejaVu Serif',serif" font-size="8.2" fill="#111">0</text>
<rect x="190" y="398" width="27.5" height="19" rx="5" fill="#76DAE6" stroke="none" stroke-width="1"/>
<text x="197.85" y="411.7" font-family="'Liberation Sans','DejaVu Sans',sans-serif" font-size="10.4" fill="#111" stroke="#111" stroke-width="0.4" stroke-linejoin="round">S</text>
<text x="204.15" y="406.6" font-family="'Liberation Serif','DejaVu Serif',serif" font-size="8.2" fill="#111">6</text>
<text x="204.15" y="414.9" font-family="'Liberation Serif','DejaVu Serif',serif" font-size="8.2" fill="#111">0</text>
<rect x="221" y="398" width="28" height="19" rx="5" fill="#76DAE6" stroke="none" stroke-width="1"/>
<text x="229.1" y="411.7" font-family="'Liberation Sans','DejaVu Sans',sans-serif" font-size="10.4" fill="#111" stroke="#111" stroke-width="0.4" stroke-linejoin="round">S</text>
<text x="235.4" y="406.6" font-family="'Liberation Serif','DejaVu Serif',serif" font-size="8.2" fill="#111">5</text>
<text x="235.4" y="414.9" font-family="'Liberation Serif','DejaVu Serif',serif" font-size="8.2" fill="#111">0</text>
<rect x="158.5" y="421.5" width="27.5" height="19" rx="5" fill="#76DAE6" stroke="none" stroke-width="1"/>
<text x="166.35" y="435.2" font-family="'Liberation Sans','DejaVu Sans',sans-serif" font-size="10.4" fill="#111" stroke="#111" stroke-width="0.4" stroke-linejoin="round">S</text>
<text x="172.65" y="430.1" font-family="'Liberation Serif','DejaVu Serif',serif" font-size="8.2" fill="#111">3</text>
<text x="172.65" y="438.4" font-family="'Liberation Serif','DejaVu Serif',serif" font-size="8.2" fill="#111">0</text>
<rect x="190" y="421.5" width="27.5" height="19" rx="5" fill="#76DAE6" stroke="none" stroke-width="1"/>
<text x="197.85" y="435.2" font-family="'Liberation Sans','DejaVu Sans',sans-serif" font-size="10.4" fill="#111" stroke="#111" stroke-width="0.4" stroke-linejoin="round">S</text>
<text x="204.15" y="430.1" font-family="'Liberation Serif','DejaVu Serif',serif" font-size="8.2" fill="#111">2</text>
<text x="204.15" y="438.4" font-family="'Liberation Serif','DejaVu Serif',serif" font-size="8.2" fill="#111">0</text>
<rect x="221" y="421.5" width="28" height="19" rx="5" fill="#76DAE6" stroke="none" stroke-width="1"/>
<text x="229.1" y="435.2" font-family="'Liberation Sans','DejaVu Sans',sans-serif" font-size="10.4" fill="#111" stroke="#111" stroke-width="0.4" stroke-linejoin="round">S</text>
<text x="235.4" y="430.1" font-family="'Liberation Serif','DejaVu Serif',serif" font-size="8.2" fill="#111">0</text>
<text x="235.4" y="438.4" font-family="'Liberation Serif','DejaVu Serif',serif" font-size="8.2" fill="#111">0</text>
<rect x="80.5" y="377.5" width="60.5" height="34" rx="17" fill="#fff" stroke="#111" stroke-width="0.9"/>
<text x="92" y="398.14" font-family="'DejaVu Sans Mono','Liberation Mono',monospace" font-size="9.97" textLength="36" lengthAdjust="spacing" fill="#111" stroke="#111" stroke-width="0.1">Rand()</text>
<line x1="141" y1="396.5" x2="146" y2="396.5" stroke="#000" stroke-width="1"/>
<path d="M149.5 396.5L145.5 394.4L145.5 398.6Z" fill="#000"/>
<rect x="286" y="304.5" width="185" height="148" rx="20" fill="#fff" stroke="#111" stroke-width="1.4"/>
<text x="293.05" y="324.3" font-family="'DejaVu Sans Mono','Liberation Mono',monospace" font-size="13.7" textLength="82.5" lengthAdjust="spacing" fill="#111" stroke="#111" stroke-width="0.1">Extractive</text>
<text x="313.88" y="340" font-family="'DejaVu Sans Mono','Liberation Mono',monospace" font-size="13.7" textLength="41.25" lengthAdjust="spacing" fill="#111" stroke="#111" stroke-width="0.1">Top–K</text>
<rect x="399" y="309.5" width="29" height="22.5" rx="6" fill="#FF8DC7" stroke="none" stroke-width="1"/>
<text x="413.8" y="325.93" font-family="'Liberation Serif','DejaVu Serif',serif" font-size="15" font-style="italic" text-anchor="middle" fill="#111" stroke="#111" stroke-width="0.25">C</text>
<text transform="translate(324.5 360.3) scale(1.1 1)" font-family="'DejaVu Math TeX Gyre','DejaVu Serif','Liberation Serif',serif" font-size="18.5" fill="#1a1a1a">𝒟</text>
<text x="342.9" y="352.3" font-family="'Liberation Serif','DejaVu Serif',serif" font-size="14.3" font-style="italic" fill="#1a1a1a" stroke="#1a1a1a" stroke-width="0.2">E</text>
<rect x="359" y="337" width="108.5" height="111" rx="13" fill="#fff" stroke="#111" stroke-width="0.9"/>
<rect x="368.5" y="351" width="28" height="19" rx="5" fill="#76DAE6" stroke="none" stroke-width="1"/>
<text x="376.6" y="364.7" font-family="'Liberation Sans','DejaVu Sans',sans-serif" font-size="10.4" fill="#111" stroke="#111" stroke-width="0.4" stroke-linejoin="round">S</text>
<text x="382.9" y="359.6" font-family="'Liberation Serif','DejaVu Serif',serif" font-size="8.2" fill="#111">0</text>
<text x="382.9" y="367.9" font-family="'Liberation Serif','DejaVu Serif',serif" font-size="8.2" fill="#111">0</text>
<rect x="399.5" y="351" width="28" height="19" rx="5" fill="#76DAE6" stroke="none" stroke-width="1"/>
<text x="407.6" y="364.7" font-family="'Liberation Sans','DejaVu Sans',sans-serif" font-size="10.4" fill="#111" stroke="#111" stroke-width="0.4" stroke-linejoin="round">S</text>
<text x="413.9" y="359.6" font-family="'Liberation Serif','DejaVu Serif',serif" font-size="8.2" fill="#111">2</text>
<text x="413.9" y="367.9" font-family="'Liberation Serif','DejaVu Serif',serif" font-size="8.2" fill="#111">0</text>
<rect x="431" y="351" width="28" height="19" rx="5" fill="#76DAE6" stroke="none" stroke-width="1"/>
<text x="439.1" y="364.7" font-family="'Liberation Sans','DejaVu Sans',sans-serif" font-size="10.4" fill="#111" stroke="#111" stroke-width="0.4" stroke-linejoin="round">S</text>
<text x="445.4" y="359.6" font-family="'Liberation Serif','DejaVu Serif',serif" font-size="8.2" fill="#111">4</text>
<text x="445.4" y="367.9" font-family="'Liberation Serif','DejaVu Serif',serif" font-size="8.2" fill="#111">0</text>
<rect x="368.5" y="374.5" width="28" height="19.5" rx="5" fill="#76DAE6" stroke="none" stroke-width="1"/>
<text x="376.6" y="388.45" font-family="'Liberation Sans','DejaVu Sans',sans-serif" font-size="10.4" fill="#111" stroke="#111" stroke-width="0.4" stroke-linejoin="round">S</text>
<text x="382.9" y="383.35" font-family="'Liberation Serif','DejaVu Serif',serif" font-size="8.2" fill="#111">0</text>
<text x="382.9" y="391.65" font-family="'Liberation Serif','DejaVu Serif',serif" font-size="8.2" fill="#111">0</text>
<rect x="399.5" y="374.5" width="28" height="19.5" rx="5" fill="#76DAE6" stroke="none" stroke-width="1"/>
<text x="407.6" y="388.45" font-family="'Liberation Sans','DejaVu Sans',sans-serif" font-size="10.4" fill="#111" stroke="#111" stroke-width="0.4" stroke-linejoin="round">S</text>
<text x="413.9" y="383.35" font-family="'Liberation Serif','DejaVu Serif',serif" font-size="8.2" fill="#111">2</text>
<text x="413.9" y="391.65" font-family="'Liberation Serif','DejaVu Serif',serif" font-size="8.2" fill="#111">0</text>
<rect x="431" y="374.5" width="28" height="19.5" rx="5" fill="#76DAE6" stroke="none" stroke-width="1"/>
<text x="439.1" y="388.45" font-family="'Liberation Sans','DejaVu Sans',sans-serif" font-size="10.4" fill="#111" stroke="#111" stroke-width="0.4" stroke-linejoin="round">S</text>
<text x="445.4" y="383.35" font-family="'Liberation Serif','DejaVu Serif',serif" font-size="8.2" fill="#111">4</text>
<text x="445.4" y="391.65" font-family="'Liberation Serif','DejaVu Serif',serif" font-size="8.2" fill="#111">0</text>
<rect x="368.5" y="399.5" width="28" height="19" rx="5" fill="#76DAE6" stroke="none" stroke-width="1"/>
<text x="376.6" y="413.2" font-family="'Liberation Sans','DejaVu Sans',sans-serif" font-size="10.4" fill="#111" stroke="#111" stroke-width="0.4" stroke-linejoin="round">S</text>
<text x="382.9" y="408.1" font-family="'Liberation Serif','DejaVu Serif',serif" font-size="8.2" fill="#111">0</text>
<text x="382.9" y="416.4" font-family="'Liberation Serif','DejaVu Serif',serif" font-size="8.2" fill="#111">0</text>
<rect x="399.5" y="399.5" width="28" height="19" rx="5" fill="#76DAE6" stroke="none" stroke-width="1"/>
<text x="407.6" y="413.2" font-family="'Liberation Sans','DejaVu Sans',sans-serif" font-size="10.4" fill="#111" stroke="#111" stroke-width="0.4" stroke-linejoin="round">S</text>
<text x="413.9" y="408.1" font-family="'Liberation Serif','DejaVu Serif',serif" font-size="8.2" fill="#111">2</text>
<text x="413.9" y="416.4" font-family="'Liberation Serif','DejaVu Serif',serif" font-size="8.2" fill="#111">0</text>
<rect x="431" y="399.5" width="28" height="19" rx="5" fill="#76DAE6" stroke="none" stroke-width="1"/>
<text x="439.1" y="413.2" font-family="'Liberation Sans','DejaVu Sans',sans-serif" font-size="10.4" fill="#111" stroke="#111" stroke-width="0.4" stroke-linejoin="round">S</text>
<text x="445.4" y="408.1" font-family="'Liberation Serif','DejaVu Serif',serif" font-size="8.2" fill="#111">4</text>
<text x="445.4" y="416.4" font-family="'Liberation Serif','DejaVu Serif',serif" font-size="8.2" fill="#111">0</text>
<rect x="368.5" y="421" width="28" height="19.5" rx="5" fill="#76DAE6" stroke="none" stroke-width="1"/>
<text x="376.6" y="434.95" font-family="'Liberation Sans','DejaVu Sans',sans-serif" font-size="10.4" fill="#111" stroke="#111" stroke-width="0.4" stroke-linejoin="round">S</text>
<text x="382.9" y="429.85" font-family="'Liberation Serif','DejaVu Serif',serif" font-size="8.2" fill="#111">0</text>
<text x="382.9" y="438.15" font-family="'Liberation Serif','DejaVu Serif',serif" font-size="8.2" fill="#111">0</text>
<rect x="399.5" y="421" width="28" height="19.5" rx="5" fill="#76DAE6" stroke="none" stroke-width="1"/>
<text x="407.6" y="434.95" font-family="'Liberation Sans','DejaVu Sans',sans-serif" font-size="10.4" fill="#111" stroke="#111" stroke-width="0.4" stroke-linejoin="round">S</text>
<text x="413.9" y="429.85" font-family="'Liberation Serif','DejaVu Serif',serif" font-size="8.2" fill="#111">2</text>
<text x="413.9" y="438.15" font-family="'Liberation Serif','DejaVu Serif',serif" font-size="8.2" fill="#111">0</text>
<rect x="431" y="421" width="28" height="19.5" rx="5" fill="#76DAE6" stroke="none" stroke-width="1"/>
<text x="439.1" y="434.95" font-family="'Liberation Sans','DejaVu Sans',sans-serif" font-size="10.4" fill="#111" stroke="#111" stroke-width="0.4" stroke-linejoin="round">S</text>
<text x="445.4" y="429.85" font-family="'Liberation Serif','DejaVu Serif',serif" font-size="8.2" fill="#111">4</text>
<text x="445.4" y="438.15" font-family="'Liberation Serif','DejaVu Serif',serif" font-size="8.2" fill="#111">0</text>
<rect x="295" y="380" width="43.5" height="25.5" rx="5.5" fill="#D3D3D3" stroke="none" stroke-width="1"/>
<text x="316.35" y="397.63" font-family="'Liberation Sans','DejaVu Sans',sans-serif" font-size="15.3" text-anchor="middle" fill="#111" stroke="#111" stroke-width="0.45" stroke-linejoin="round">LLM</text>
<line x1="338.5" y1="392.5" x2="355.3" y2="392.5" stroke="#000" stroke-width="1"/>
<path d="M359 392.5L354.8 390.4L354.8 394.6Z" fill="#000"/>
<rect x="489" y="304.5" width="127" height="112" rx="20" fill="#fff" stroke="#111" stroke-width="1.4"/>
<text x="531.25" y="324.3" font-family="'DejaVu Sans Mono','Liberation Mono',monospace" font-size="13.7" textLength="49.5" lengthAdjust="spacing" fill="#111" stroke="#111" stroke-width="0.1">Global</text>
<text x="527.12" y="340" font-family="'DejaVu Sans Mono','Liberation Mono',monospace" font-size="13.7" textLength="57.75" lengthAdjust="spacing" fill="#111" stroke="#111" stroke-width="0.1">Summary</text>
<text transform="translate(544.5 359.8) scale(1.1 1)" font-family="'DejaVu Math TeX Gyre','DejaVu Serif','Liberation Serif',serif" font-size="18.5" fill="#1a1a1a">𝒟</text>
<text x="562.9" y="351.8" font-family="'Liberation Serif','DejaVu Serif',serif" font-size="14.3" font-style="italic" fill="#1a1a1a" stroke="#1a1a1a" stroke-width="0.2">S</text>
<rect x="497" y="373" width="43.5" height="25.5" rx="5.5" fill="#D3D3D3" stroke="none" stroke-width="1"/>
<text x="518.35" y="390.63" font-family="'Liberation Sans','DejaVu Sans',sans-serif" font-size="15.3" text-anchor="middle" fill="#111" stroke="#111" stroke-width="0.45" stroke-linejoin="round">LLM</text>
<line x1="540.5" y1="386.5" x2="571.8" y2="386.5" stroke="#000" stroke-width="1"/>
<path d="M575.5 386.5L571.3 384.4L571.3 388.6Z" fill="#000"/>
<rect x="575.5" y="374.5" width="28.5" height="22.5" rx="6" fill="#FF8DC7" stroke="none" stroke-width="1"/>
<text x="590.05" y="390.93" font-family="'Liberation Serif','DejaVu Serif',serif" font-size="15" font-style="italic" text-anchor="middle" fill="#111" stroke="#111" stroke-width="0.25">C</text>
<text transform="translate(336 477.4) scale(0.84 1)" font-family="'Liberation Sans','DejaVu Sans',sans-serif" font-size="19" fill="#6e6e6e">(</text>
<text x="340.5" y="477.3" font-family="'Liberation Sans','DejaVu Sans',sans-serif" font-size="18.3" font-weight="bold" fill="#0a0a0a">b</text>
<text transform="translate(351.2 477.4) scale(0.84 1)" font-family="'Liberation Sans','DejaVu Sans',sans-serif" font-size="19" fill="#6e6e6e">)</text>
<line x1="698" y1="274" x2="967" y2="274" stroke="#333" stroke-width="1.3"/>
<rect x="673.5" y="262.3" width="24.5" height="23.3" rx="5" fill="#FFD966" stroke="#111" stroke-width="1.3"/>
<text x="685.75" y="278.3" font-family="'DejaVu Sans Mono','Liberation Mono',monospace" font-size="14.3" text-anchor="middle" fill="#111">Q</text>
<circle cx="981" cy="272.8" r="15" fill="#76DAE6"/>
<text x="750.1" y="292.03" font-family="'DejaVu Sans Mono','Liberation Mono',monospace" font-size="12.96" textLength="163.8" lengthAdjust="spacing" fill="#111" stroke="#111" stroke-width="0.1">Long Chain–of–Thought</text>
<line x1="699" y1="313.3" x2="967" y2="313.3" stroke="#333" stroke-width="1.3"/>
<rect x="673.5" y="302" width="25.5" height="23.5" rx="5" fill="#FFD966" stroke="#111" stroke-width="1.3"/>
<text x="686.25" y="318.1" font-family="'DejaVu Sans Mono','Liberation Mono',monospace" font-size="14.3" text-anchor="middle" fill="#111">Q</text>
<circle cx="760" cy="313.3" r="9.35" fill="#fff" stroke="#76DAE6" stroke-width="1.9"/>
<circle cx="832" cy="313.3" r="9.35" fill="#fff" stroke="#76DAE6" stroke-width="1.9"/>
<circle cx="904" cy="313.3" r="9.35" fill="#fff" stroke="#76DAE6" stroke-width="1.9"/>
<circle cx="981" cy="313.4" r="15" fill="#76DAE6"/>
<text x="773.4" y="338.03" font-family="'DejaVu Sans Mono','Liberation Mono',monospace" font-size="12.96" textLength="132.6" lengthAdjust="spacing" fill="#111" stroke="#111" stroke-width="0.1">Sequential–Refine</text>
<path d="M697.5 396.8L716.4 351.51M728 351.51L750 396.8" stroke="#000" stroke-width="1.3" fill="none"/>
<path d="M697.5 396.8L716.4 372.88M728 372.88L750 396.8" stroke="#000" stroke-width="1.3" fill="none"/>
<path d="M697.5 396.8L716.4 412.87M728 412.87L750 396.8" stroke="#000" stroke-width="1.3" fill="none"/>
<path d="M697.5 396.8L716.4 430.96M728 430.96L750 396.8" stroke="#000" stroke-width="1.3" fill="none"/>
<line x1="697.5" y1="396.5" x2="750" y2="396.5" stroke="#000" stroke-width="1.3"/>
<rect x="715.4" y="345.3" width="13.6" height="15.9" rx="2.5" fill="#FF5F4B" stroke="none" stroke-width="1"/>
<rect x="715.4" y="366" width="13.6" height="15.6" rx="2.5" fill="#FF5F4B" stroke="none" stroke-width="1"/>
<rect x="715.4" y="387.3" width="13.6" height="15.2" rx="2.5" fill="#FF5F4B" stroke="none" stroke-width="1"/>
<rect x="715.4" y="404.7" width="13.6" height="15.1" rx="2.5" fill="#FF5F4B" stroke="none" stroke-width="1"/>
<rect x="715.4" y="422" width="13.6" height="15.3" rx="2.5" fill="#FF5F4B" stroke="none" stroke-width="1"/>
<path d="M769.3 396.8L788 351.51M799.4 351.51L821.5 396.8" stroke="#000" stroke-width="1.3" fill="none"/>
<path d="M769.3 396.8L788 372.88M799.4 372.88L821.5 396.8" stroke="#000" stroke-width="1.3" fill="none"/>
<path d="M769.3 396.8L788 412.87M799.4 412.87L821.5 396.8" stroke="#000" stroke-width="1.3" fill="none"/>
<path d="M769.3 396.8L788 430.96M799.4 430.96L821.5 396.8" stroke="#000" stroke-width="1.3" fill="none"/>
<line x1="769.3" y1="396.5" x2="821.5" y2="396.5" stroke="#000" stroke-width="1.3"/>
<rect x="787" y="345.3" width="13.4" height="15.9" rx="2.5" fill="#FF5F4B" stroke="none" stroke-width="1"/>
<rect x="787" y="366" width="13.4" height="15.6" rx="2.5" fill="#FF5F4B" stroke="none" stroke-width="1"/>
<rect x="787" y="387.3" width="13.4" height="15.2" rx="2.5" fill="#FF5F4B" stroke="none" stroke-width="1"/>
<rect x="787" y="404.7" width="13.4" height="15.1" rx="2.5" fill="#FF5F4B" stroke="none" stroke-width="1"/>
<rect x="787" y="422" width="13.4" height="15.3" rx="2.5" fill="#FF5F4B" stroke="none" stroke-width="1"/>
<path d="M841 396.8L860 351.51M871.5 351.51L894 396.8" stroke="#000" stroke-width="1.3" fill="none"/>
<path d="M841 396.8L860 372.88M871.5 372.88L894 396.8" stroke="#000" stroke-width="1.3" fill="none"/>
<path d="M841 396.8L860 412.87M871.5 412.87L894 396.8" stroke="#000" stroke-width="1.3" fill="none"/>
<path d="M841 396.8L860 430.96M871.5 430.96L894 396.8" stroke="#000" stroke-width="1.3" fill="none"/>
<line x1="841" y1="396.5" x2="894" y2="396.5" stroke="#000" stroke-width="1.3"/>
<rect x="859" y="345.3" width="13.5" height="15.9" rx="2.5" fill="#FF5F4B" stroke="none" stroke-width="1"/>
<rect x="859" y="366" width="13.5" height="15.6" rx="2.5" fill="#FF5F4B" stroke="none" stroke-width="1"/>
<rect x="859" y="387.3" width="13.5" height="15.2" rx="2.5" fill="#FF5F4B" stroke="none" stroke-width="1"/>
<rect x="859" y="404.7" width="13.5" height="15.1" rx="2.5" fill="#FF5F4B" stroke="none" stroke-width="1"/>
<rect x="859" y="422" width="13.5" height="15.3" rx="2.5" fill="#FF5F4B" stroke="none" stroke-width="1"/>
<path d="M913 396.8L933 350.68M944.4 350.68L966.5 396.8" stroke="#000" stroke-width="1.3" fill="none"/>
<path d="M913 396.8L933 372.05M944.4 372.05L966.5 396.8" stroke="#000" stroke-width="1.3" fill="none"/>
<path d="M913 396.8L933 412.04M944.4 412.04L966.5 396.8" stroke="#000" stroke-width="1.3" fill="none"/>
<path d="M913 396.8L933 430.13M944.4 430.13L966.5 396.8" stroke="#000" stroke-width="1.3" fill="none"/>
<line x1="913" y1="396.5" x2="966.5" y2="396.5" stroke="#000" stroke-width="1.3"/>
<rect x="932" y="344.5" width="13.4" height="15.9" rx="2.5" fill="#FF5F4B" stroke="none" stroke-width="1"/>
<rect x="932" y="365.2" width="13.4" height="15.6" rx="2.5" fill="#FF5F4B" stroke="none" stroke-width="1"/>
<rect x="932" y="386.5" width="13.4" height="15.2" rx="2.5" fill="#FF5F4B" stroke="none" stroke-width="1"/>
<rect x="932" y="403.9" width="13.4" height="15.1" rx="2.5" fill="#FF5F4B" stroke="none" stroke-width="1"/>
<rect x="932" y="421.2" width="13.4" height="15.3" rx="2.5" fill="#FF5F4B" stroke="none" stroke-width="1"/>
<circle cx="759.7" cy="396.8" r="9.35" fill="#fff" stroke="#76DAE6" stroke-width="1.9"/>
<circle cx="831.3" cy="396.8" r="9.35" fill="#fff" stroke="#76DAE6" stroke-width="1.9"/>
<circle cx="903.5" cy="396.8" r="9.35" fill="#fff" stroke="#76DAE6" stroke-width="1.9"/>
<circle cx="981" cy="396.8" r="15" fill="#76DAE6"/>
<rect x="671.2" y="384.7" width="25.3" height="23.8" rx="5" fill="#FFD966" stroke="#111" stroke-width="1.3"/>
<text x="683.85" y="400.95" font-family="'DejaVu Sans Mono','Liberation Mono',monospace" font-size="14.3" text-anchor="middle" fill="#111">Q</text>
<text x="750.53" y="453.22" font-family="'DejaVu Sans Mono','Liberation Mono',monospace" font-size="12.92" textLength="178.94" lengthAdjust="spacing" fill="#111" stroke="#111" stroke-width="0.1">Parallel–Distill–Refine</text>
<text transform="translate(821.6 477.7) scale(0.84 1)" font-family="'Liberation Sans','DejaVu Sans',sans-serif" font-size="19" fill="#6e6e6e">(</text>
<text x="826.9" y="477.6" font-family="'Liberation Sans','DejaVu Sans',sans-serif" font-size="18.3" font-weight="bold" fill="#0a0a0a">c</text>
<text transform="translate(836.8 477.7) scale(0.84 1)" font-family="'Liberation Sans','DejaVu Sans',sans-serif" font-size="19" fill="#6e6e6e">)</text>
<g>
<ellipse cx="722.6" cy="536.9" rx="14.6" ry="10.4" fill="#b2b2b2"/>
<path d="M713 544 L710.8 549.3 L718 546.5Z" fill="#b2b2b2"/>
<ellipse cx="736.1" cy="548.2" rx="11.2" ry="10.3" fill="#b2b2b2" stroke="#fff" stroke-width="1.3"/>
<path d="M739.5 557.2 L744.6 559.8 L743.6 554.6Z" fill="#b2b2b2"/>
<circle cx="718" cy="535.3" r="2.1" fill="#fff"/><circle cx="727.7" cy="535.3" r="2.1" fill="#fff"/>
<circle cx="732.5" cy="544.6" r="1.6" fill="#fff"/><circle cx="739.8" cy="544.6" r="1.6" fill="#fff"/>
<text x="755.4" y="554.2" font-family="'Liberation Sans','Noto Sans CJK SC',sans-serif" font-size="29.5" textLength="90" lengthAdjust="spacing" fill="#bdbdbd" stroke="#bdbdbd" stroke-width="0.25">公众号</text>
<text x="865" y="554" font-family="'Liberation Sans','Noto Sans CJK SC',sans-serif" font-size="28" text-anchor="middle" fill="#bdbdbd">·</text>
<text x="879.2" y="553.8" font-family="'Liberation Sans','Noto Sans CJK SC',sans-serif" font-size="29.7" textLength="167.5" lengthAdjust="spacing" fill="#bdbdbd">PaperAgent</text>
</g>
<text x="15.5" y="554.7" font-family="'Liberation Sans','DejaVu Sans',sans-serif" font-size="17.3" font-weight="bold" textLength="53.2" lengthAdjust="spacingAndGlyphs" fill="#111">Figure</text>
<text x="71.9" y="554.7" font-family="'Liberation Sans','DejaVu Sans',sans-serif" font-size="17.3" font-weight="bold" textLength="11.4" lengthAdjust="spacingAndGlyphs" fill="#111">2</text>
<text x="94.7" y="554.7" font-family="'Liberation Serif','DejaVu Serif',serif" font-size="19.2" textLength="24.9" lengthAdjust="spacingAndGlyphs" fill="#111">(a)</text>
<text x="127.3" y="554.7" font-family="'Liberation Sans','DejaVu Sans',sans-serif" font-size="17.3" font-weight="bold" textLength="181.4" lengthAdjust="spacingAndGlyphs" fill="#111">Parallel-Distill-Refine</text>
<text x="314" y="554.7" font-family="'Liberation Sans','DejaVu Sans',sans-serif" font-size="17.3" font-weight="bold" textLength="50" lengthAdjust="spacingAndGlyphs" fill="#111">(PDR)</text>
<text x="365.7" y="554.7" font-family="'Liberation Serif','DejaVu Serif',serif" font-size="19.2" textLength="3.6" lengthAdjust="spacingAndGlyphs" fill="#111">.</text>
<text x="375.7" y="554.7" font-family="'Liberation Serif','DejaVu Serif',serif" font-size="19.2" textLength="19.6" lengthAdjust="spacingAndGlyphs" fill="#111">In</text>
<text x="401.7" y="554.7" font-family="'Liberation Serif','DejaVu Serif',serif" font-size="19.2" textLength="53.6" lengthAdjust="spacingAndGlyphs" fill="#111">round</text>
<text x="461" y="554.7" font-family="'Liberation Serif','DejaVu Serif',serif" font-size="19.2" font-style="italic" textLength="11" lengthAdjust="spacingAndGlyphs" fill="#111">r</text>
<text x="472.7" y="554.7" font-family="'Liberation Serif','DejaVu Serif',serif" font-size="19.2" textLength="4.4" lengthAdjust="spacingAndGlyphs" fill="#111">,</text>
<text x="484.7" y="554.7" font-family="'Liberation Serif','DejaVu Serif',serif" font-size="19.2" textLength="28.9" lengthAdjust="spacingAndGlyphs" fill="#111">the</text>
<text x="519.7" y="554.7" font-family="'Liberation Serif','DejaVu Serif',serif" font-size="19.2" textLength="54.9" lengthAdjust="spacingAndGlyphs" fill="#111">model</text>
<text x="580.7" y="554.7" font-family="'Liberation Serif','DejaVu Serif',serif" font-size="19.2" textLength="84.4" lengthAdjust="spacingAndGlyphs" fill="#111">generates</text>
<text x="672.7" y="554.7" font-family="'Liberation Serif','DejaVu Serif',serif" font-size="19.2" font-style="italic" textLength="20.9" lengthAdjust="spacingAndGlyphs" fill="#111">M</text>
<text x="707.7" y="554.7" font-family="'Liberation Serif','DejaVu Serif',serif" font-size="19.2" textLength="66.2" lengthAdjust="spacingAndGlyphs" fill="#111">parallel</text>
<text x="780.7" y="554.7" font-family="'Liberation Serif','DejaVu Serif',serif" font-size="19.2" textLength="56.7" lengthAdjust="spacingAndGlyphs" fill="#111">drafts,</text>
<text x="846.1" y="554.7" font-family="'Liberation Serif','DejaVu Serif',serif" font-size="19.2" textLength="39.2" lengthAdjust="spacingAndGlyphs" fill="#111">then</text>
<text x="892.4" y="554.7" font-family="'Liberation Serif','DejaVu Serif',serif" font-size="19.2" textLength="58.2" lengthAdjust="spacingAndGlyphs" fill="#111">distills</text>
<text x="958.7" y="554.7" font-family="'Liberation Serif','DejaVu Serif',serif" font-size="19.2" textLength="45.2" lengthAdjust="spacingAndGlyphs" fill="#111">them</text>
<text x="1010.7" y="554.7" font-family="'Liberation Serif','DejaVu Serif',serif" font-size="19.2" textLength="33.6" lengthAdjust="spacingAndGlyphs" fill="#111">into</text>
<text x="1052.4" y="554.7" font-family="'Liberation Serif','DejaVu Serif',serif" font-size="19.2" textLength="10.2" lengthAdjust="spacingAndGlyphs" fill="#111">a</text>
<text x="694.1" y="557.5" font-family="'Liberation Serif','DejaVu Serif',serif" font-size="13.5" font-style="italic" textLength="5.7" lengthAdjust="spacingAndGlyphs" fill="#111">r</text>
<text x="15.4" y="579.5" font-family="'Liberation Serif','DejaVu Serif',serif" font-size="19.2" textLength="75.2" lengthAdjust="spacingAndGlyphs" fill="#111">compact</text>
<text x="98.7" y="579.5" font-family="'Liberation Serif','DejaVu Serif',serif" font-size="19.2" textLength="91.9" lengthAdjust="spacingAndGlyphs" fill="#111">workspace</text>
<text x="197.4" y="579.5" font-family="'Liberation Serif','DejaVu Serif',serif" font-size="19.2" textLength="46.5" lengthAdjust="spacingAndGlyphs" fill="#111">using</text>
<text x="250.4" y="579.5" font-family="'Liberation Serif','DejaVu Serif',serif" font-size="19.2" textLength="32.2" lengthAdjust="spacingAndGlyphs" fill="#111">one</text>
<text x="288.4" y="579.5" font-family="'Liberation Serif','DejaVu Serif',serif" font-size="19.2" textLength="17.2" lengthAdjust="spacingAndGlyphs" fill="#111">of</text>
<text x="311.4" y="579.5" font-family="'Liberation Serif','DejaVu Serif',serif" font-size="19.2" textLength="29.2" lengthAdjust="spacingAndGlyphs" fill="#111">the</text>
<text x="347.4" y="579.5" font-family="'Liberation Serif','DejaVu Serif',serif" font-size="19.2" textLength="71.5" lengthAdjust="spacingAndGlyphs" fill="#111">schemes</text>
<text x="426.1" y="579.5" font-family="'Liberation Serif','DejaVu Serif',serif" font-size="19.2" textLength="16.5" lengthAdjust="spacingAndGlyphs" fill="#111">in</text>
<text x="451.4" y="579.5" font-family="'Liberation Serif','DejaVu Serif',serif" font-size="19.2" textLength="32.9" lengthAdjust="spacingAndGlyphs" fill="#111">(b);</text>
<text x="490.7" y="579.5" font-family="'Liberation Serif','DejaVu Serif',serif" font-size="19.2" textLength="28.6" lengthAdjust="spacingAndGlyphs" fill="#111">the</text>
<text x="526.1" y="579.5" font-family="'Liberation Serif','DejaVu Serif',serif" font-size="19.2" textLength="60.5" lengthAdjust="spacingAndGlyphs" fill="#111">refined</text>
<text x="594.1" y="579.5" font-family="'Liberation Serif','DejaVu Serif',serif" font-size="19.2" textLength="44.5" lengthAdjust="spacingAndGlyphs" fill="#111">state</text>
<text x="644.4" y="579.5" font-family="'Liberation Serif','DejaVu Serif',serif" font-size="19.2" textLength="47.2" lengthAdjust="spacingAndGlyphs" fill="#111">seeds</text>
<text x="698.1" y="579.5" font-family="'Liberation Serif','DejaVu Serif',serif" font-size="19.2" textLength="28.8" lengthAdjust="spacingAndGlyphs" fill="#111">the</text>
<text x="734.1" y="579.5" font-family="'Liberation Serif','DejaVu Serif',serif" font-size="19.2" textLength="38.8" lengthAdjust="spacingAndGlyphs" fill="#111">next</text>
<text x="780.4" y="579.5" font-family="'Liberation Serif','DejaVu Serif',serif" font-size="19.2" textLength="56.9" lengthAdjust="spacingAndGlyphs" fill="#111">round.</text>
<text x="848.7" y="579.5" font-family="'Liberation Serif','DejaVu Serif',serif" font-size="19.2" textLength="26.2" lengthAdjust="spacingAndGlyphs" fill="#111">(b)</text>
<text x="882.4" y="579.5" font-family="'Liberation Serif','DejaVu Serif',serif" font-size="19.2" textLength="100.4" lengthAdjust="spacingAndGlyphs" fill="#111">Distillation</text>
<text x="989.4" y="579.5" font-family="'Liberation Serif','DejaVu Serif',serif" font-size="19.2" textLength="72.9" lengthAdjust="spacingAndGlyphs" fill="#111">schemes</text>
</svg>
</body>
</html>
